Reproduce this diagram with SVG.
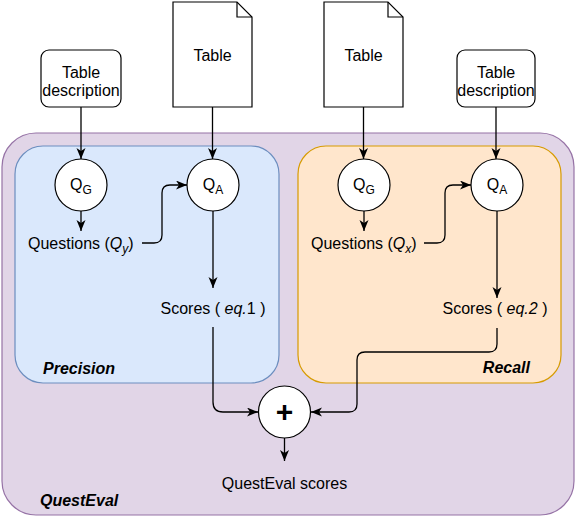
<svg xmlns="http://www.w3.org/2000/svg" width="576" height="521" viewBox="0 0 576 521">
<style>
text{font-family:"Liberation Sans",Arial,sans-serif;font-size:16px;fill:#000}
.c{text-anchor:middle}
.bi{font-weight:bold;font-style:italic}
.it{font-style:italic}
.sub{font-size:12px}
.plus{font-size:30px;font-weight:bold}
.node{fill:#fff;stroke:#000;stroke-width:1.2}
.edge{fill:none;stroke:#000;stroke-width:1.3;marker-end:url(#arr)}
</style>
<defs>
<marker id="arr" markerUnits="userSpaceOnUse" markerWidth="12" markerHeight="10" refX="11" refY="4.5" orient="auto">
<path d="M0,0 L11,4.5 L0,9 L3,4.5 z" fill="#000"/>
</marker>
</defs>
<g id="questeval-box">
<rect x="2" y="133" width="572" height="382" rx="34" ry="34" fill="#e1d5e7" stroke="#9673a6" stroke-width="1.2"/>
<text x="40" y="506" class="bi">QuestEval</text>
</g>
<g id="precision-box">
<rect x="15" y="146" width="264" height="237" rx="28" ry="28" fill="#dae8fc" stroke="#6c8ebf" stroke-width="1.2"/>
<text x="43" y="374" class="bi">Precision</text>
</g>
<g id="recall-box">
<rect x="298" y="146" width="263" height="237" rx="28" ry="28" fill="#ffe6cc" stroke="#d79b00" stroke-width="1.2"/>
<text x="530" y="373" class="bi" text-anchor="end">Recall</text>
</g>
<g id="desc-left">
<rect class="node" x="41" y="50" width="80" height="57" rx="8" ry="8"/>
<text x="81" y="78" class="c">Table</text>
<text x="81" y="96" class="c">description</text>
</g>
<g id="table-left">
<path class="node" d="M173,2 H237 L252,17 V107 H173 Z"/>
<path d="M237,2 V17 H252" fill="none" stroke="#000" stroke-width="1.2"/>
<text x="212.5" y="61" class="c">Table</text>
</g>
<g id="table-right">
<path class="node" d="M324,2 H388 L403,17 V107 H324 Z"/>
<path d="M388,2 V17 H403" fill="none" stroke="#000" stroke-width="1.2"/>
<text x="363.5" y="61" class="c">Table</text>
</g>
<g id="desc-right">
<rect class="node" x="457" y="50" width="78" height="57" rx="8" ry="8"/>
<text x="496" y="78" class="c">Table</text>
<text x="496" y="96" class="c">description</text>
</g>
<g id="qg-left">
<circle class="node" cx="81" cy="185" r="26"/>
<text x="81" y="190" class="c">Q<tspan class="sub" dy="4">G</tspan></text>
</g>
<g id="qa-left">
<circle class="node" cx="213" cy="185" r="26"/>
<text x="213" y="190" class="c">Q<tspan class="sub" dy="4">A</tspan></text>
</g>
<g id="qg-right">
<circle class="node" cx="364" cy="185" r="26"/>
<text x="364" y="190" class="c">Q<tspan class="sub" dy="4">G</tspan></text>
</g>
<g id="qa-right">
<circle class="node" cx="497" cy="185" r="26"/>
<text x="497" y="190" class="c">Q<tspan class="sub" dy="4">A</tspan></text>
</g>
<g id="questions-left">
<text x="28" y="249">Questions (<tspan class="it">Q</tspan><tspan class="it sub" dy="4">y</tspan><tspan dy="-4">)</tspan></text>
</g>
<g id="questions-right">
<text x="311" y="249">Questions (<tspan class="it">Q</tspan><tspan class="it sub" dy="4">x</tspan><tspan dy="-4">)</tspan></text>
</g>
<g id="scores-left">
<text x="213" y="314" class="c">Scores ( <tspan class="it">eq.</tspan>1 )</text>
</g>
<g id="scores-right">
<text x="495" y="314" class="c">Scores ( <tspan class="it">eq.2</tspan> )</text>
</g>
<g id="plus">
<circle class="node" cx="284.5" cy="412" r="26"/>
<text x="284.5" y="422" class="c plus">+</text>
</g>
<g id="final-scores">
<text x="284.5" y="489" class="c">QuestEval scores</text>
</g>
<g id="connectors">
<path class="edge" d="M81,107 V159"/>
<path class="edge" d="M212.5,107 V159"/>
<path class="edge" d="M81,211 V231"/>
<path class="edge" d="M142,243 H154 Q162,243 162,235 V193 Q162,185 170,185 H187"/>
<path class="edge" d="M213,211 V288"/>
<path class="edge" d="M213,327 V402 Q213,412 223,412 H258"/>
<path class="edge" d="M363.5,107 V159"/>
<path class="edge" d="M496,107 V159"/>
<path class="edge" d="M364,211 V231"/>
<path class="edge" d="M424,243 H437 Q445,243 445,235 V193 Q445,185 453,185 H471"/>
<path class="edge" d="M497,211 V298"/>
<path class="edge" d="M497,328 V344 Q497,352 489,352 H365 Q357,352 357,360 V404 Q357,412 349,412 H311"/>
<path class="edge" d="M284.5,438 V461"/>
</g>
</svg>
